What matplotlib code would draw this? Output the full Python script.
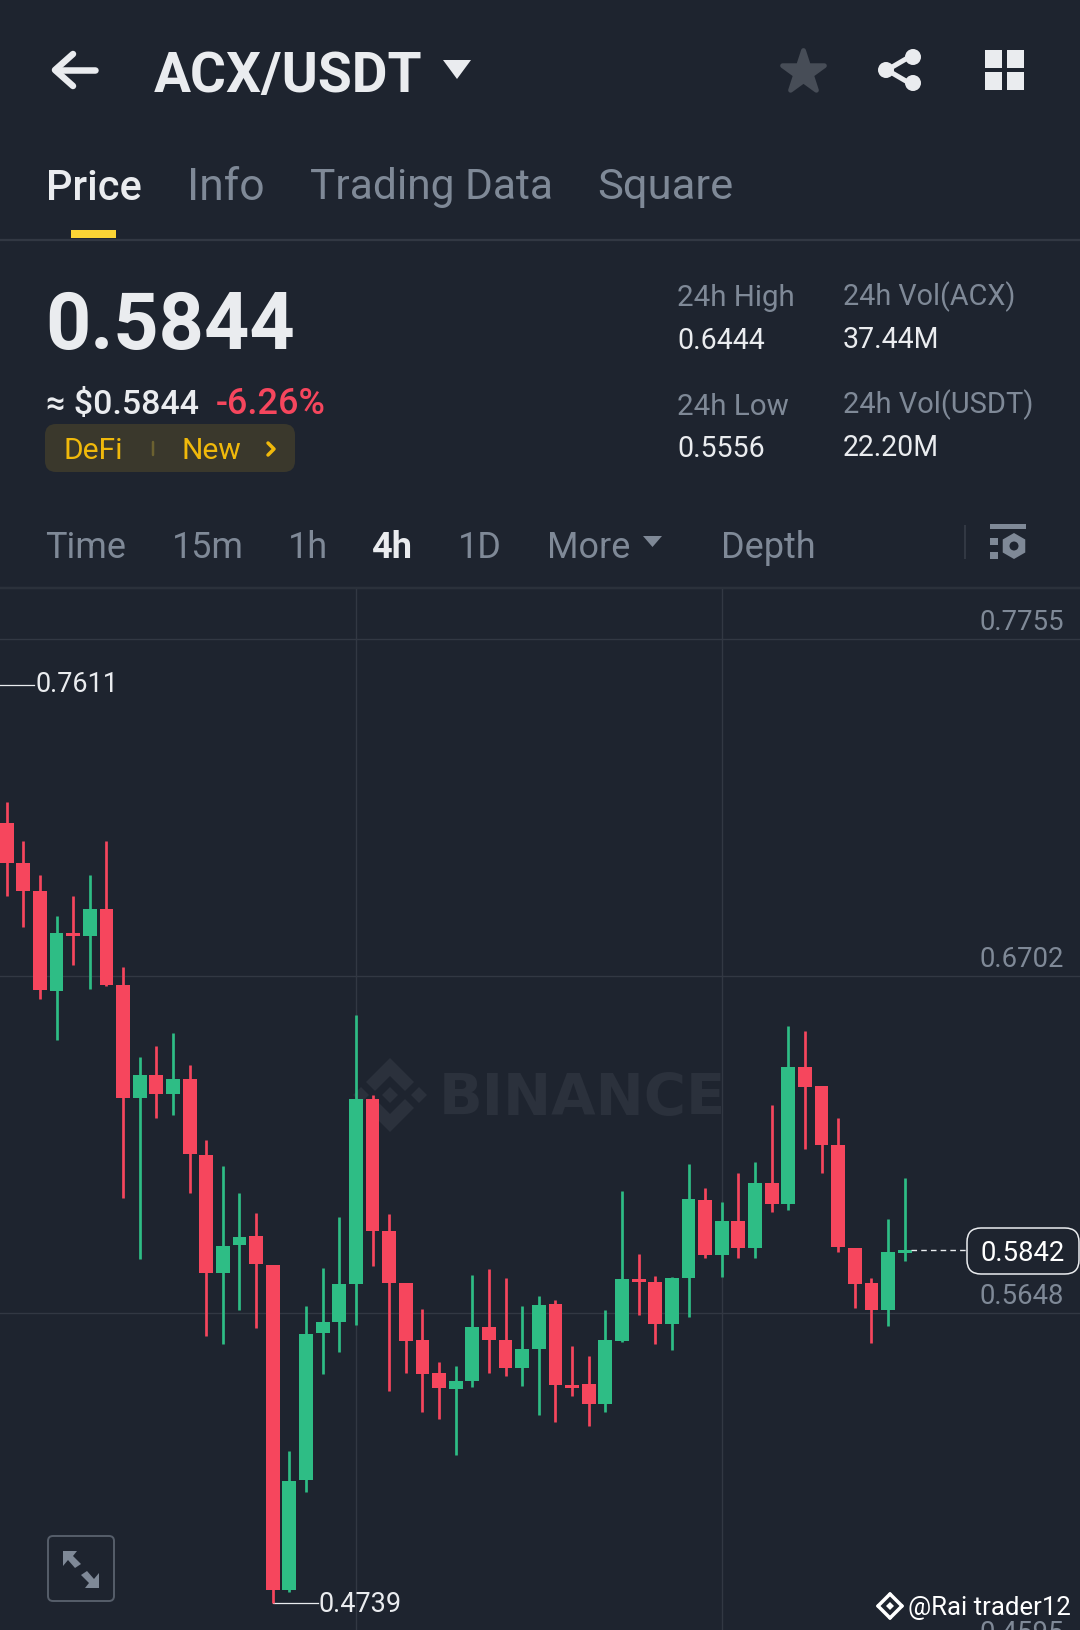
import matplotlib
matplotlib.use("Agg")
import matplotlib.pyplot as plt
from matplotlib.patches import Polygon, Rectangle, FancyBboxPatch, Circle, RegularPolygon
from matplotlib.markers import MarkerStyle

plt.rcParams['font.family'] = ['Roboto', 'DejaVu Sans']

BG = '#1E242F'
GRID = '#323843'
GREY = '#7F8997'
WHITE = '#EAECEF'
UP = '#2EBD85'
DOWN = '#F6465D'
GOLD = '#F0B90B'

# 4h candles
opens = [.7178,.7054,.6967,.6655,.6835,.6826,.6911,.6672,.6320,.6392,.6332,.6378,.6142,.5770,.5860,.5886,.5798,.4779,.5123,.5584,.5618,
         .5737,.6316,.5903,.5739,.5561,.5458,.5410,.5435,.5602,.5563,.5473,.5533,.5674,.5422,.5424,.5362,.5559,.5753,.5744,.5612,.5755,
         .6000,.5827,.5935,.5849,.6054,.5988,.6415,.6356,.6172,.5849,.5739,.5657,.5834]
highs = [.7245,.7122,.7018,.6887,.6950,.7017,.7123,.6728,.6448,.6483,.6522,.6421,.6189,.6105,.6021,.5959,.5798,.5214,.5667,.5786,.5947,
         .6579,.6329,.5957,.5741,.5659,.5494,.5482,.5765,.5784,.5755,.5669,.5699,.5688,.5544,.5513,.5656,.6027,.5832,.5761,.5760,.6113,
         .6037,.5993,.6085,.6120,.6297,.6545,.6529,.6357,.6257,.5850,.5756,.5940,.6069]
lows = [.6952,.6855,.6629,.6499,.6735,.6661,.6668,.6006,.5814,.6256,.6266,.6023,.5573,.5548,.5656,.5599,.4739,.4774,.5086,.5455,.5523,
        .5609,.5794,.5403,.5458,.5338,.5315,.5203,.5415,.5459,.5448,.5417,.5328,.5306,.5388,.5294,.5336,.5557,.5640,.5549,.5531,.5633,
        .5818,.5758,.5818,.5818,.5961,.5969,.6159,.6085,.5838,.5662,.5553,.5607,.5808]
closes = [.7054,.6967,.6658,.6835,.6826,.6911,.6672,.6319,.6392,.6332,.6378,.6144,.5770,.5857,.5884,.5799,.4779,.5122,.5582,.5618,.5736,
          .6316,.5902,.5739,.5560,.5456,.5412,.5434,.5602,.5562,.5473,.5534,.5672,.5420,.5413,.5361,.5561,.5753,.5744,.5611,.5757,.6003,
          .5827,.5935,.5849,.6054,.5988,.6415,.6354,.6172,.5852,.5737,.5657,.5836,.5842]

price_ticks = [0.7755, 0.6702, 0.5648, 0.4595]
time_grid = [21, 43]
last_price = 0.5842
visible_high = 0.7611
visible_low = 0.4739

W, H = 1080, 1631
fig = plt.figure(figsize=(W/100, H/100), dpi=100, facecolor=BG)

ui = fig.add_axes([0, 0, 1, 1], zorder=1)
ui.set_xlim(0, W); ui.set_ylim(H, 0); ui.axis('off')

def T(x, y, s, px, color=GREY, weight='normal', ha='left', ax=ui, **kw):
    return ax.text(x, y, s, fontsize=px*0.72, color=color, fontweight=weight, ha=ha, va='center', **kw)

def poly(pts, color, ax=ui, **kw):
    p = Polygon(pts, closed=True, facecolor=color, edgecolor='none', **kw)
    ax.add_patch(p)
    return p

def line(xs, ys, color, lw, ax=ui, **kw):
    ax.plot(xs, ys, color=color, lw=lw*0.72, solid_capstyle=kw.pop('cap', 'round'), **kw)

# header
line([56, 95], [71, 71], WHITE, 6.5)
line([73, 55, 73], [55, 71, 87], WHITE, 6.5, solid_joinstyle='round')
T(154, 77, 'ACX/USDT', 55, WHITE, 'bold')
poly([(443, 61), (471, 61), (457, 80)], WHITE)
ui.scatter([803], [73], s=1000, marker=MarkerStyle('*', joinstyle='round'), color='#474D57', edgecolors='#474D57', lw=3.5)
# share
line([911, 887, 911], [57, 71, 85], WHITE, 5)
ui.add_patch(Circle((886, 71), 8, color=WHITE, lw=0))
ui.add_patch(Circle((913, 58), 8, color=WHITE, lw=0))
ui.add_patch(Circle((913, 84), 8, color=WHITE, lw=0))
# grid icon
for gx, gy in [(985, 51), (1007, 51), (985, 73), (1007, 73)]:
    ui.add_patch(Rectangle((gx, gy), 17, 17.5, color=WHITE, lw=0))

# tabs
T(46, 188, 'Price', 41.5, WHITE, 500)
T(187, 188, 'Info', 44.5, GREY)
T(310, 188, 'Trading Data', 42.5, GREY)
T(597, 188, 'Square', 43.5, GREY)
ui.add_patch(Rectangle((71, 231), 45, 8, color='#FCD535', lw=0))
line([0, W], [240.5, 240.5], '#323843', 2.2, cap='butt')

# price block
T(45, 327, '0.5844', 79, WHITE, 'bold')
T(46, 405, '≈ $0.5844', 34, WHITE, 500)
T(216, 405, '-6.26%', 36, DOWN, 500)
ui.add_patch(FancyBboxPatch((51, 431), 238, 36, boxstyle='round,pad=6,rounding_size=11', fc='#3A382C', ec='none'))
T(63, 451, 'DeFi', 30, GOLD)
line([153, 153], [443, 456], '#6B6130', 2.5)
T(182, 451, 'New', 30, GOLD)
line([268, 274, 268], [444, 450, 456], GOLD, 3.5)

# stats
for x, y, s, c, px in [(677, 298, '24h High', GREY, 29.5), (677, 341, '0.6444', WHITE, 28.5), (677, 407, '24h Low', GREY, 29.5), (677, 449, '0.5556', WHITE, 28.5),
                       (843, 297, '24h Vol(ACX)', GREY, 28.8), (843, 340, '37.44M', WHITE, 28.5), (843, 405, '24h Vol(USDT)', GREY, 29), (843, 448, '22.20M', WHITE, 28.5)]:
    T(x, y, s, px, c)

# interval row
for x, s in [(45, 'Time'), (172, '15m'), (288, '1h'), (458, '1D'), (547, 'More'), (721, 'Depth')]:
    T(x, 548, s, 36, GREY)
T(372, 548, '4h', 36, WHITE, 'bold')
poly([(643, 537), (662, 537), (652.5, 548)], GREY)
line([965, 965], [526, 560], '#323843', 2, cap='butt')
ui.add_patch(Rectangle((990, 525), 36, 5, color=GREY, lw=0))
ui.add_patch(Rectangle((990, 539), 8, 7, color=GREY, lw=0))
ui.add_patch(Rectangle((990, 553), 8, 7, color=GREY, lw=0))
ui.add_patch(RegularPolygon((1014, 547), 6, radius=13, color=GREY, lw=0))
ui.add_patch(Circle((1014, 547), 4.5, color=BG, lw=0))
line([0, W], [589, 589], '#2B313B', 2.5, cap='butt')

# watermark
WM = '#2B313C'
cx, cy = 390, 1096
poly([(cx, cy-37), (cx+24, cy-13), (cx+15, cy-4), (cx, cy-19), (cx-15, cy-4), (cx-24, cy-13)], WM)
poly([(cx, cy+37), (cx+24, cy+13), (cx+15, cy+4), (cx, cy+19), (cx-15, cy+4), (cx-24, cy+13)], WM)
poly([(cx, cy-8), (cx+8, cy), (cx, cy+8), (cx-8, cy)], WM)
poly([(cx+29, cy-8), (cx+37, cy), (cx+29, cy+8), (cx+21, cy)], WM)
poly([(cx-29, cy-8), (cx-21, cy), (cx-29, cy+8), (cx-37, cy)], WM)
T(439, 1100, 'BINANCE', 57.5, WM, 'bold', family='DejaVu Sans')

# expand button
ui.add_patch(FancyBboxPatch((52, 1541), 58, 57, boxstyle='round,pad=4,rounding_size=5', fc='none', ec='#565E6A', lw=1.4))
poly([(63, 1552), (77, 1552), (73, 1557), (81, 1565), (75, 1569), (68, 1561), (63, 1567)], GREY)
poly([(99, 1589), (85, 1589), (89, 1584), (81, 1576), (87, 1572), (94, 1580), (99, 1574)], GREY)

# user watermark
ux, uy = 890, 1607
for a, b in [((ux, uy-12), (ux+12, uy)), ((ux+12, uy), (ux, uy+12)), ((ux, uy+12), (ux-12, uy)), ((ux-12, uy), (ux, uy-12))]:
    line([a[0], b[0]], [a[1], b[1]], 'white', 3.5)
poly([(ux, uy-4), (ux+4, uy), (ux, uy+4), (ux-4, uy)], 'white')

# chart
scale = 0.0003128
y_of = lambda yp: 0.5648 + (1313.5 - yp)*scale
x_of = lambda xp: (xp - 6.67)/16.63
top_px, bot_px = 590, H
ax = fig.add_axes([0, 0, 1, (bot_px-top_px)/H], zorder=2)
ax.patch.set_alpha(0)
ax.set_xlim(x_of(0), x_of(W))
ax.set_ylim(y_of(bot_px), y_of(top_px))
for s in ax.spines.values():
    s.set_visible(False)
ax.set_xticks(time_grid); ax.set_yticks(price_ticks[:3])
ax.tick_params(length=0, labelbottom=False, labelleft=False)
ax.grid(True, color=GRID, lw=1.0)
ax.set_axisbelow(True)

idx = list(range(len(opens)))
colors = [UP if c >= o else DOWN for o, c in zip(opens, closes)]
ax.vlines(idx, lows, highs, colors=colors, lw=2.7*0.72, capstyle='butt', zorder=3)
ax.bar(idx, [abs(c-o) for o, c in zip(opens, closes)], bottom=[min(o, c) for o, c in zip(opens, closes)],
       width=0.83, color=colors, lw=0, zorder=4)

for p in price_ticks:
    ax.annotate(f'{p:.4f}', (1, p), xycoords=('axes fraction', 'data'), xytext=(-16, 17), textcoords='offset pixels',
                ha='right', va='center', fontsize=27.5*0.72, color=GREY, annotation_clip=False, clip_on=True)

# extreme labels
ax.plot([x_of(0), x_of(34)], [visible_high]*2, color=WHITE, lw=0.9)
ax.annotate(f'{visible_high:.4f}', (x_of(35), visible_high), xytext=(0, 1), textcoords='offset pixels',
            ha='left', va='center', fontsize=27*0.72, color=WHITE)
ax.plot([16, 16, x_of(318)], [visible_low+0.0004, visible_low, visible_low], color=WHITE, lw=0.9)
ax.annotate(f'{visible_low:.4f}', (x_of(318), visible_low), ha='left', va='center', fontsize=27*0.72, color=WHITE)

# last price
ax.plot([54.4, x_of(966)], [last_price]*2, color=WHITE, lw=1.0, dashes=(4, 3), zorder=5)
ax.annotate(f'{last_price:.4f}', (x_of(1023), last_price), xytext=(0, -2), textcoords='offset pixels',
            ha='center', va='center', fontsize=27.5*0.72, color='white', zorder=7)
ui2 = fig.add_axes([0, 0, 1, 1], zorder=1.5)
ui2.set_xlim(0, W); ui2.set_ylim(H, 0); ui2.axis('off'); ui2.patch.set_alpha(0)
T(908, 1608, '@Rai trader12', 25.8, 'white', ax=ui2)
ui3 = fig.add_axes([0, 0, 1, 1], zorder=3)
ui3.set_xlim(0, W); ui3.set_ylim(H, 0); ui3.axis('off'); ui3.patch.set_alpha(0)
ui3.add_patch(FancyBboxPatch((977, 1239), 92, 26, boxstyle='round,pad=10,rounding_size=14', fc='none', ec=WHITE, lw=1.1))

fig.savefig('out.png', dpi=100, facecolor=BG)
